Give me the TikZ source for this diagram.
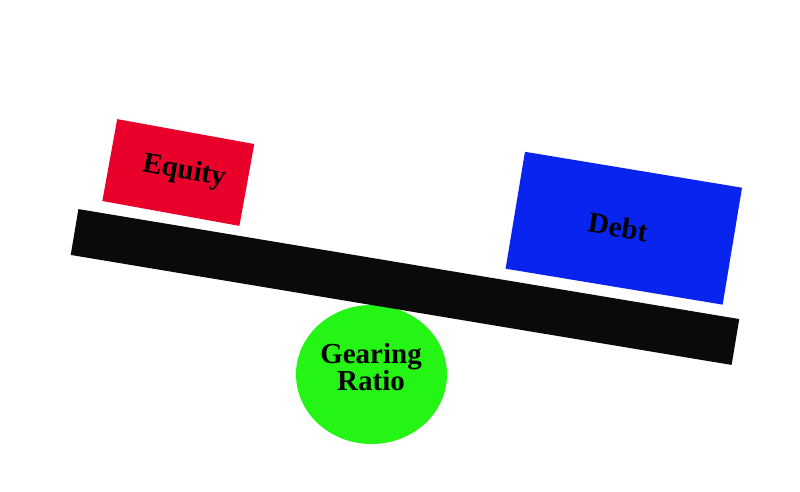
\documentclass[tikz,border=0pt]{standalone}
\usepackage{fontspec}
\setmainfont{Liberation Serif}
\definecolor{eqred}{RGB}{232,0,42}
\definecolor{debtblue}{RGB}{10,36,240}
\definecolor{gearg}{RGB}{36,245,20}
\definecolor{beamk}{RGB}{10,10,10}
\tikzset{
  lbl/.style={font=\bfseries\fontsize{29}{25}\selectfont, text=black, inner sep=0pt, align=center}
}
\begin{document}
\begin{tikzpicture}[x=1pt,y=-1pt]
\useasboundingbox (0,0) rectangle (800,491);
\fill[white] (0,0) rectangle (800,491);
% fulcrum
\fill[gearg] (371.5,374.5) ellipse [x radius=75.5pt, y radius=69.5pt];
% beam
\begin{scope}[shift={(405,287)}, rotate=-9.45]
  \fill[beamk] (-335,-23.25) rectangle (335,23.25);
\end{scope}
% equity box
\begin{scope}[shift={(178.3,172.5)}, rotate=-10.3]
  \fill[eqred] (-69.65,-41.6) rectangle (69.65,41.6);
\end{scope}
% debt box
\begin{scope}[shift={(623.8,228.2)}, rotate=-9.4]
  \fill[debtblue] (-110,-59.25) rectangle (110,59.25);
\end{scope}
\node[lbl] (gearlbl) at (371,367) {Gearing\\Ratio};
\node[lbl, rotate=-10.3] (eqlbl) at (184,172) {Equity};
\node[lbl, rotate=-9.4] (debtlbl) at (618,227) {Debt};
\end{tikzpicture}
\end{document}
